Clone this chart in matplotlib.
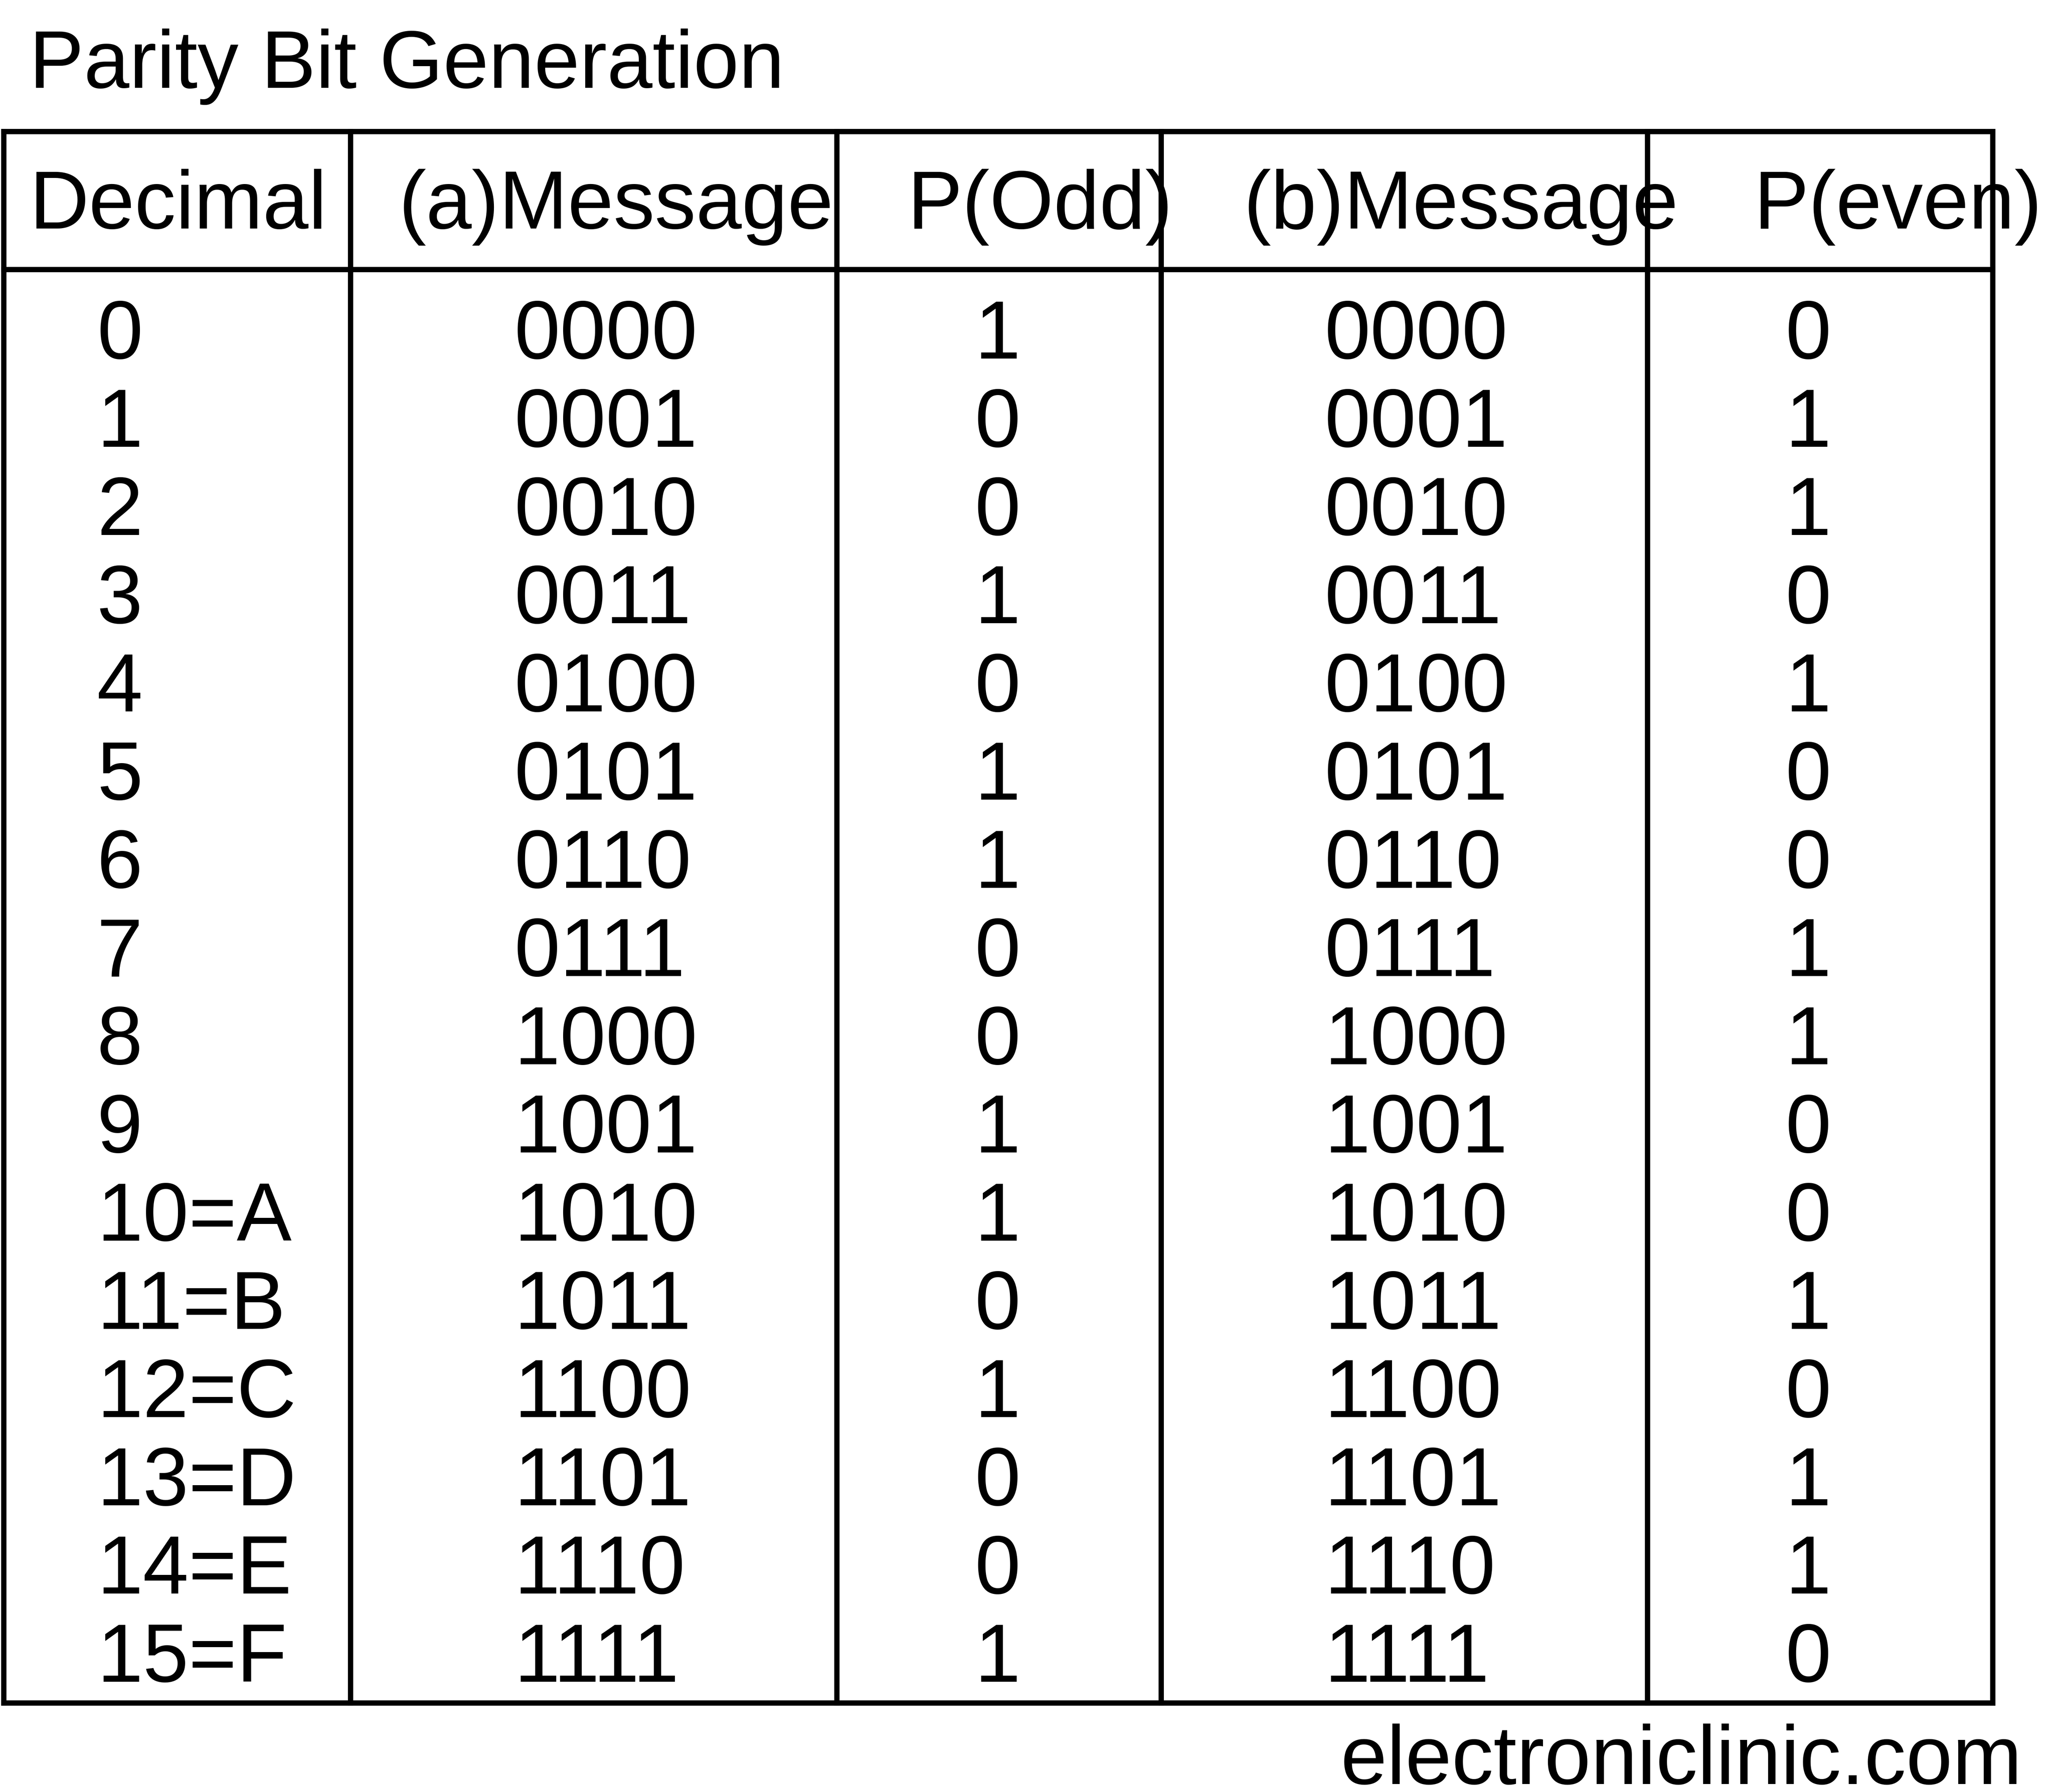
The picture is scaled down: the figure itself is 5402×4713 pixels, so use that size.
import matplotlib
matplotlib.use("Agg")
from matplotlib import pyplot as plt

decimals = ["0", "1", "2", "3", "4", "5", "6", "7", "8", "9",
            "10=A", "11=B", "12=C", "13=D", "14=E", "15=F"]
messages = ["0000", "0001", "0010", "0011", "0100", "0101", "0110", "0111",
            "1000", "1001", "1010", "1011", "1100", "1101", "1110", "1111"]
p_odd = [1, 0, 0, 1, 0, 1, 1, 0, 0, 1, 1, 0, 1, 0, 0, 1]
p_even = [0, 1, 1, 0, 1, 0, 0, 1, 1, 0, 0, 1, 0, 1, 1, 0]
headers = ["Decimal", "(a)Message", "P(Odd)", "(b)Message", "P(even)"]

plt.rcParams["font.family"] = "Liberation Sans"
W, H = 1546.0, 1349.0
fig = plt.figure(figsize=(54.02, 47.13), dpi=100)
ax = fig.add_axes([0, 0, 1, 1])
ax.set_xlim(0, W)
ax.set_ylim(H, 0)
ax.axis("off")

lw = 10
left, right, top, hbot, bot = 3, 1500, 99, 203, 1282
for y in (top, hbot, bot):
    ax.plot([left, right], [y, y], color="black", lw=lw, solid_capstyle="projecting")
for x in (left, 264, 630, 874, 1240, right):
    ax.plot([x, x], [top, bot], color="black", lw=lw, solid_capstyle="projecting")

fs = 156
ax.text(22, 66, "Parity Bit Generation", fontsize=155, va="baseline", ha="left")
for hx, h in zip([22, 300, 683, 936, 1320], headers):
    ax.text(hx, 172, h, fontsize=fs, va="baseline", ha="left")

step = 66.4
for i in range(len(decimals)):
    y = 270 + step * i
    ax.text(73, y, decimals[i], fontsize=fs, va="baseline", ha="left")
    ax.text(387, y, messages[i], fontsize=fs, va="baseline", ha="left")
    ax.text(751, y, str(p_odd[i]), fontsize=fs, va="baseline", ha="center")
    ax.text(997, y, messages[i], fontsize=fs, va="baseline", ha="left")
    ax.text(1361, y, str(p_even[i]), fontsize=fs, va="baseline", ha="center")

ax.text(1522, 1343, "electroniclinic.com", fontsize=158, va="baseline", ha="right")

fig.savefig("out.png", dpi=100)
